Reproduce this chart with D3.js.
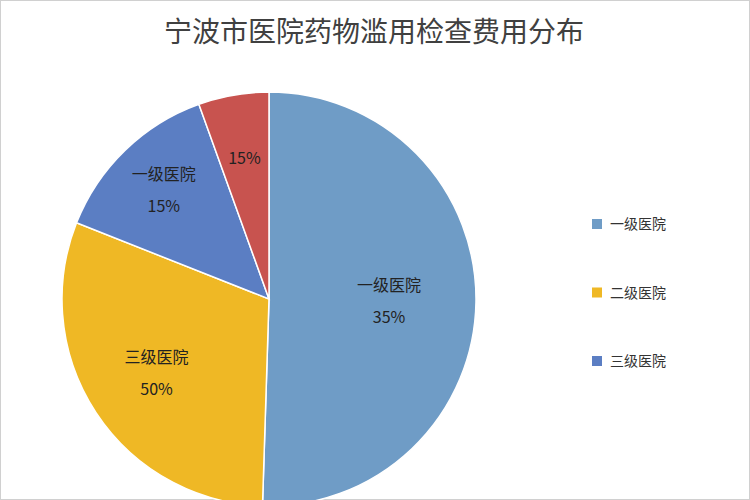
<!DOCTYPE html>
<html><head><meta charset="utf-8">
<script src="https://cdn.jsdelivr.net/npm/d3@7"></script>
<style>body{margin:0;background:#fff}</style>
</head><body><div id="chart"></div>
<script>
var title = "宁波市医院药物滥用检查费用分布";
var sliceValues = [50.5, 30.5, 13.5, 5.5];
var sliceColors = ["#6f9cc6", "#efb825", "#5b7ec3", "#c8534f"];
var sliceNames = ["一级医院", "三级医院", "一级医院", ""];
var sliceLabels = ["35%", "50%", "15%", "15%"];
var legendNames = ["一级医院", "二级医院", "三级医院"];

var width = 750, height = 500, cx = 269, cy = 299, r = 207;
var labelRadius = [0.58, 0.65, 0.73, 0.69];
var font = "'Noto Sans CJK SC', sans-serif";

var svg = d3.select("#chart").append("svg")
    .attr("width", width).attr("height", height);
svg.append("rect").attr("x", 0.5).attr("y", 0.5).attr("width", width - 1).attr("height", height - 1)
    .attr("fill", "#fff").attr("stroke", "#d0d0d0");

svg.append("text").attr("x", 374).attr("y", 42).attr("text-anchor", "middle")
    .attr("font-family", font).attr("font-size", 28).attr("fill", "#404040").text(title);

var pie = d3.pie().sort(null)(sliceValues);
var arc = d3.arc().innerRadius(0).outerRadius(r);

var g = svg.append("g").attr("transform", "translate(" + cx + "," + cy + ")");
g.selectAll("path").data(pie).enter().append("path")
    .attr("d", arc).attr("fill", function(d, i) { return sliceColors[i]; })
    .attr("stroke", "#fff").attr("stroke-width", 1.5);

pie.forEach(function(d, i) {
    var lr = r * labelRadius[i];
    var c = d3.arc().innerRadius(lr).outerRadius(lr).centroid(d);
    var t = g.append("text").attr("text-anchor", "middle")
        .attr("font-family", font).attr("font-size", 16).attr("fill", "#222");
    if (sliceNames[i]) {
        t.append("tspan").attr("x", c[0]).attr("y", c[1] - 10).text(sliceNames[i]);
        t.append("tspan").attr("x", c[0]).attr("y", c[1] + 22).text(sliceLabels[i]);
    } else {
        t.append("tspan").attr("x", c[0]).attr("y", c[1] + 6).text(sliceLabels[i]);
    }
});

var ly = d3.scalePoint().domain(legendNames).range([224, 361]);
var lg = svg.selectAll(".lg").data(legendNames).enter().append("g")
    .attr("transform", function(d) { return "translate(592," + ly(d) + ")"; });
lg.append("rect").attr("x", 0).attr("y", -5).attr("width", 10).attr("height", 10)
    .attr("fill", function(d, i) { return sliceColors[i]; });
lg.append("text").attr("x", 18).attr("y", 5).attr("font-family", font)
    .attr("font-size", 14).attr("fill", "#333").text(function(d) { return d; });
</script>
</body></html>
